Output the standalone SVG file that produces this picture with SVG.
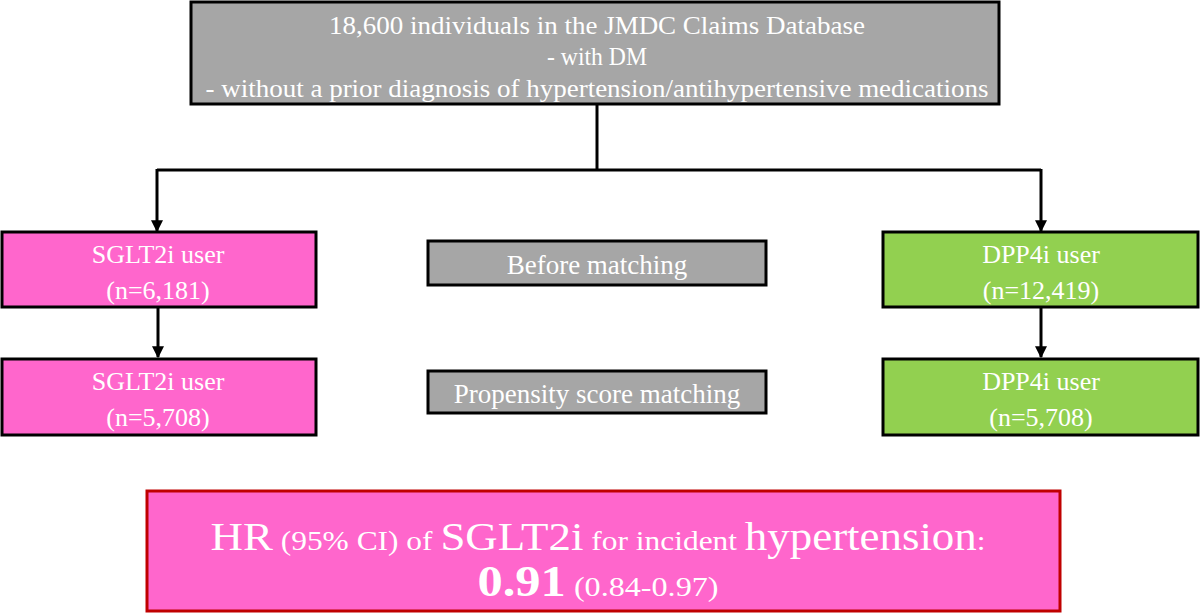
<svg xmlns="http://www.w3.org/2000/svg" width="1200" height="614" viewBox="0 0 1200 614">
<style>
.t{font-family:"Liberation Serif","Times New Roman",serif;fill:#fff;text-anchor:middle}
.box{stroke:#000;stroke-width:3}
.gray{fill:#a6a6a6}
.pink{fill:#ff66cc}
.green{fill:#92d050}
.ln{stroke:#000;stroke-width:3;fill:none}
</style>
<defs>
<marker id="ah" viewBox="0 0 10 10" refX="9" refY="5" markerWidth="4" markerHeight="4" orient="auto" markerUnits="strokeWidth">
<path d="M0,0 L10,5 L0,10 z" fill="#000"/>
</marker>
</defs>
<g id="connectors">
<path class="ln" d="M597,104 V170"/>
<path class="ln" d="M157,170 H1041"/>
<path class="ln" d="M157,169 V231" marker-end="url(#ah)"/>
<path class="ln" d="M1041,169 V231" marker-end="url(#ah)"/>
<path class="ln" d="M158,307 V357" marker-end="url(#ah)"/>
<path class="ln" d="M1041,307 V357" marker-end="url(#ah)"/>
</g>
<g id="top">
<rect class="box gray" x="191" y="2" width="808" height="102"/>
<text class="t" x="597" y="34" font-size="26" textLength="536" lengthAdjust="spacingAndGlyphs">18,600 individuals in the JMDC Claims Database</text>
<text class="t" x="597" y="65" font-size="26" textLength="100" lengthAdjust="spacingAndGlyphs">- with DM</text>
<text class="t" x="597" y="97" font-size="26" textLength="783" lengthAdjust="spacingAndGlyphs">- without a prior diagnosis of hypertension/antihypertensive medications</text>
</g>
<g id="sglt2-before">
<rect class="box pink" x="2" y="232" width="314" height="75"/>
<text class="t" x="158" y="263" font-size="26">SGLT2i user</text>
<text class="t" x="158" y="299" font-size="26">(n=6,181)</text>
</g>
<g id="sglt2-after">
<rect class="box pink" x="2" y="359" width="314" height="76"/>
<text class="t" x="158" y="390" font-size="26">SGLT2i user</text>
<text class="t" x="158" y="426" font-size="26">(n=5,708)</text>
</g>
<g id="dpp4-before">
<rect class="box green" x="883" y="232" width="315" height="75"/>
<text class="t" x="1041" y="263" font-size="26">DPP4i user</text>
<text class="t" x="1041" y="299" font-size="26">(n=12,419)</text>
</g>
<g id="dpp4-after">
<rect class="box green" x="883" y="359" width="315" height="76"/>
<text class="t" x="1041" y="390" font-size="26">DPP4i user</text>
<text class="t" x="1041" y="426" font-size="26">(n=5,708)</text>
</g>
<g id="before-matching">
<rect class="box gray" x="428" y="241" width="338" height="44"/>
<text class="t" x="597" y="274" font-size="27">Before matching</text>
</g>
<g id="psm">
<rect class="box gray" x="428" y="371" width="338" height="42"/>
<text class="t" x="597" y="403" font-size="27">Propensity score matching</text>
</g>
<g id="result">
<rect x="147" y="491" width="913" height="120" fill="#ff66cc" stroke="#c00000" stroke-width="3"/>
<text class="t" x="598" y="550" font-size="28" textLength="775" lengthAdjust="spacingAndGlyphs"><tspan font-size="40">HR</tspan> (95% CI) of <tspan font-size="40">SGLT2i</tspan> for incident <tspan font-size="40">hypertension</tspan>:</text>
<text class="t" x="598" y="596" font-size="28" textLength="241" lengthAdjust="spacingAndGlyphs"><tspan font-size="44" font-weight="bold">0.91</tspan> (0.84-0.97)</text>
</g>
</svg>
